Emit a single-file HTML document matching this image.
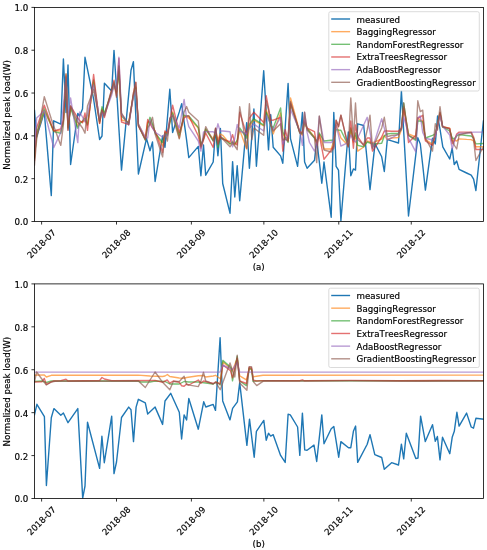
<!DOCTYPE html>
<html><head><meta charset="utf-8"><title>Normalized peak load</title>
<style>html,body{margin:0;padding:0;background:#fff}text{stroke:#000;stroke-width:0.18px}</style></head>
<body>
<svg width="487" height="550" viewBox="0 0 487 550" style="display:block;font-family:'DejaVu Sans','Liberation Sans',sans-serif;font-size:8.66px;font-kerning:none" fill="#000">
<rect width="487" height="550" fill="#fff"/>
<clipPath id="c1"><rect x="34.5" y="7.4" width="449.0" height="214.1"/></clipPath>
<g clip-path="url(#c1)" fill="none" stroke-width="1.4" stroke-linejoin="round" stroke-linecap="square">
<path d="M34.5 110.5 L36.6 137.0 L44.3 112.4 L46.4 137.4 L51.3 195.6 L53.7 120.8 L60.8 124.1 L63.4 59.0 L66.0 112.5 L68.0 65.0 L70.6 164.5 L77.8 113.4 L79.6 116.0 L82.5 109.0 L85.0 57.3 L87.5 69.4 L93.6 99.0 L99.6 139.5 L102.0 136.0 L104.4 83.2 L111.7 91.0 L114.0 50.4 L116.5 88.0 L118.9 128.5 L121.5 170.1 L128.7 94.4 L131.0 70.2 L133.4 61.6 L135.8 115.6 L138.4 174.0 L146.5 138.6 L150.0 150.7 L152.5 142.0 L155.1 181.5 L162.6 136.0 L165.0 147.3 L169.8 89.2 L172.6 132.5 L179.3 111.9 L181.7 103.6 L184.1 121.9 L186.6 140.1 L188.8 157.6 L198.3 146.4 L200.9 175.8 L203.5 145.0 L205.7 175.2 L213.2 162.0 L215.6 128.8 L217.9 155.7 L220.4 128.5 L222.7 183.5 L230.0 213.2 L232.6 161.6 L234.8 197.0 L237.2 165.8 L239.7 200.8 L246.7 122.6 L249.4 168.3 L253.9 109.0 L256.4 166.3 L263.7 70.7 L266.2 112.0 L268.5 149.9 L270.7 114.6 L273.2 147.3 L280.6 155.9 L282.8 163.2 L285.2 127.1 L288.1 83.5 L290.5 138.6 L297.6 166.3 L299.8 141.6 L302.4 112.5 L304.6 162.0 L307.1 168.3 L314.5 160.2 L316.7 140.0 L319.3 161.6 L321.8 183.2 L324.0 162.0 L331.2 217.2 L333.8 112.5 L336.1 166.3 L338.5 170.1 L340.9 220.7 L348.3 132.0 L350.8 175.8 L353.4 168.9 L355.5 170.1 L357.7 123.8 L363.7 125.5 L367.2 161.1 L370.0 189.6 L372.5 166.7 L375.0 143.8 L381.7 156.8 L384.3 171.5 L387.3 139.5 L391.6 140.9 L398.5 143.0 L401.4 91.0 L403.7 131.5 L406.3 177.3 L408.5 216.0 L415.8 154.6 L417.8 137.8 L420.3 144.0 L422.7 165.0 L425.4 190.1 L432.5 138.2 L435.3 143.9 L437.6 115.9 L440.0 129.2 L442.8 146.8 L449.7 159.0 L452.2 148.2 L454.2 164.5 L456.7 161.0 L459.1 169.4 L466.6 173.0 L471.2 175.2 L473.6 179.2 L475.9 190.5 L483.4 120.9" stroke="#1f77b4" stroke-opacity="1"/>
<path d="M34.5 157.0 L36.6 135.0 L44.3 111.0 L53.7 130.5 L60.8 131.0 L63.4 122.0 L66.0 74.0 L68.0 127.0 L70.6 107.0 L77.8 126.0 L79.6 122.0 L82.5 122.0 L85.0 120.0 L87.5 124.0 L93.6 82.0 L99.6 123.5 L102.0 109.0 L104.4 114.0 L111.7 93.0 L114.0 85.0 L116.5 93.0 L118.9 70.0 L121.5 120.0 L128.7 121.9 L133.4 96.0 L135.8 87.0 L138.4 124.0 L145.3 138.0 L147.7 122.0 L150.0 122.0 L152.5 125.0 L155.1 132.0 L162.6 146.0 L165.0 132.0 L167.4 134.0 L169.8 122.0 L172.6 112.0 L179.3 138.0 L184.1 116.0 L186.6 117.0 L188.8 118.0 L198.3 128.0 L200.9 146.0 L203.5 138.0 L205.7 129.5 L213.2 139.0 L215.6 133.0 L217.9 140.0 L220.1 134.0 L222.7 135.3 L230.0 143.9 L232.6 141.0 L234.8 145.0 L237.2 141.0 L239.7 130.0 L246.7 149.0 L249.4 126.0 L253.9 120.0 L263.7 126.0 L266.2 110.0 L268.5 116.0 L270.7 124.0 L273.2 133.9 L280.6 113.0 L282.8 134.0 L285.2 138.0 L288.1 138.0 L290.5 97.9 L299.8 132.0 L302.4 135.3 L304.6 124.0 L307.1 128.1 L314.5 137.0 L316.7 143.0 L319.3 134.0 L324.0 149.0 L331.2 149.0 L333.8 141.0 L336.1 125.0 L338.5 131.0 L340.9 138.0 L348.3 145.4 L350.8 130.0 L353.4 142.0 L355.5 136.0 L357.7 151.1 L363.7 147.0 L367.2 141.0 L370.0 142.0 L372.5 143.0 L381.7 139.0 L384.3 135.3 L387.3 139.6 L391.6 138.0 L398.5 137.5 L401.4 130.0 L403.7 106.6 L406.3 121.0 L408.5 133.9 L415.8 137.0 L417.8 118.0 L420.3 120.0 L422.7 121.0 L425.4 139.6 L432.5 144.0 L435.3 135.3 L437.5 125.0 L440.0 114.0 L442.6 126.7 L449.7 128.1 L452.2 141.0 L454.2 140.0 L456.7 141.0 L459.1 138.9 L466.6 139.4 L471.2 139.6 L473.6 141.0 L475.9 146.8 L483.4 146.8" stroke="#ff7f0e" stroke-opacity="0.66"/>
<path d="M34.5 158.0 L36.6 133.0 L44.3 108.8 L53.7 131.5 L60.8 133.2 L63.4 121.0 L66.0 78.0 L68.0 128.0 L70.6 108.0 L77.8 128.2 L79.6 124.0 L82.5 121.0 L85.0 118.0 L87.5 125.0 L93.6 80.0 L99.6 121.0 L102.0 106.8 L104.4 113.0 L111.7 92.0 L114.0 84.0 L116.5 92.0 L118.9 71.6 L121.5 116.0 L128.7 123.5 L133.4 95.0 L135.8 88.0 L138.4 125.0 L145.3 140.0 L147.7 125.0 L150.0 117.3 L152.5 124.0 L155.1 133.0 L162.6 142.5 L165.0 133.0 L167.4 135.0 L169.8 123.0 L172.6 113.0 L179.3 135.0 L184.1 115.2 L186.6 116.0 L188.8 116.0 L198.3 127.4 L200.9 145.0 L203.5 139.0 L205.7 129.0 L213.2 141.0 L215.6 132.0 L217.9 147.5 L220.1 138.0 L222.7 138.0 L230.0 144.0 L232.6 142.0 L234.8 144.0 L237.2 140.0 L239.7 128.0 L246.7 138.0 L249.4 124.0 L253.9 118.8 L263.7 125.2 L266.2 112.3 L268.5 118.0 L270.7 125.0 L273.2 128.0 L280.6 108.0 L282.8 132.0 L285.2 137.0 L288.1 142.5 L290.5 104.0 L299.8 133.0 L302.4 133.0 L304.6 122.0 L307.1 128.5 L314.5 138.0 L316.7 142.5 L319.3 133.0 L324.0 141.0 L331.2 140.3 L333.8 140.0 L336.1 129.6 L338.5 130.0 L340.9 130.3 L348.3 145.4 L350.8 128.0 L353.4 140.0 L355.5 133.0 L357.7 145.4 L363.7 146.8 L367.2 142.0 L370.0 143.0 L372.5 144.0 L381.7 143.2 L384.3 136.0 L387.3 133.9 L391.6 133.5 L398.5 133.2 L401.4 129.0 L403.7 103.0 L406.3 122.0 L408.5 135.3 L415.8 140.3 L417.8 120.9 L420.3 121.0 L422.7 122.0 L425.4 138.0 L432.5 135.3 L435.3 134.0 L437.5 124.0 L440.0 113.0 L442.6 127.0 L449.7 131.0 L452.2 138.0 L454.2 139.0 L456.7 136.0 L459.1 134.6 L466.6 135.5 L471.2 136.0 L473.6 138.0 L475.9 143.9 L483.4 143.5" stroke="#2ca02c" stroke-opacity="0.66"/>
<path d="M34.5 160.0 L36.6 128.0 L44.3 105.2 L53.7 131.0 L60.8 128.9 L63.4 120.0 L66.0 76.0 L68.0 130.3 L70.6 105.9 L77.8 118.0 L79.6 120.5 L82.5 122.8 L85.0 113.0 L87.5 130.3 L93.6 74.5 L99.6 123.3 L102.0 110.4 L104.4 117.6 L111.7 90.0 L114.0 80.2 L116.5 96.0 L118.9 58.5 L121.5 122.0 L128.7 124.7 L133.4 93.0 L135.8 82.3 L138.4 126.0 L145.3 139.0 L147.7 119.5 L150.0 124.0 L152.5 128.0 L155.1 131.0 L162.6 152.6 L165.0 131.0 L167.4 133.0 L169.8 121.0 L172.6 105.1 L179.3 132.5 L184.1 118.0 L186.6 116.0 L188.8 116.0 L198.3 136.0 L200.9 148.2 L203.5 140.0 L205.7 133.0 L213.2 147.5 L215.6 128.1 L217.9 144.0 L220.1 136.0 L222.7 139.0 L230.0 142.0 L232.6 134.6 L234.8 143.0 L237.2 145.0 L239.7 112.3 L246.7 135.0 L249.4 118.0 L253.9 112.3 L263.7 122.4 L266.2 95.8 L268.5 108.0 L270.7 120.0 L273.2 120.2 L280.6 117.3 L282.8 151.1 L285.2 129.6 L288.1 141.0 L290.5 103.0 L299.8 132.4 L302.4 132.0 L304.6 120.0 L307.1 128.1 L314.5 131.7 L316.7 145.4 L319.3 135.0 L324.0 159.4 L331.2 150.0 L333.8 146.0 L336.1 120.2 L338.5 126.7 L340.9 115.2 L348.3 146.8 L350.8 121.0 L353.4 148.2 L355.5 125.0 L357.7 136.7 L363.7 145.4 L367.2 138.0 L370.0 138.0 L372.5 151.1 L381.7 137.0 L384.3 131.0 L387.3 131.0 L391.6 131.3 L398.5 131.3 L401.4 128.0 L403.7 108.0 L406.3 124.0 L408.5 142.5 L415.8 135.3 L417.8 118.0 L420.3 117.0 L422.7 115.2 L425.4 141.0 L432.5 145.4 L435.3 135.3 L437.5 125.0 L440.0 112.3 L442.6 126.7 L449.7 128.5 L452.2 143.9 L454.2 141.0 L456.7 134.0 L459.1 132.1 L466.6 132.1 L471.2 132.1 L473.6 137.0 L475.9 149.5 L483.4 149.5" stroke="#d62728" stroke-opacity="0.66"/>
<path d="M34.5 150.0 L36.6 118.0 L44.3 111.0 L53.7 147.6 L60.8 132.5 L66.0 78.0 L68.0 120.0 L70.6 98.0 L77.8 142.6 L79.6 112.0 L82.5 117.0 L85.0 122.0 L87.5 115.0 L93.6 85.0 L99.6 119.0 L102.0 111.8 L104.4 115.0 L111.7 95.0 L114.0 85.0 L116.5 90.0 L118.9 57.2 L121.5 114.0 L128.7 125.0 L133.4 97.0 L135.8 90.0 L138.4 124.0 L145.3 137.0 L147.7 138.0 L150.0 120.0 L152.5 128.0 L155.1 132.4 L162.6 137.0 L165.0 134.0 L167.4 136.0 L169.8 119.0 L172.6 115.0 L179.3 128.0 L184.1 99.4 L186.6 118.0 L188.8 126.7 L198.3 141.0 L200.9 151.1 L203.5 132.0 L205.7 131.7 L213.2 131.7 L215.6 134.0 L217.9 123.8 L220.1 131.0 L222.7 131.0 L230.0 131.7 L232.6 146.8 L234.8 138.0 L237.2 124.5 L239.7 131.0 L246.7 134.0 L249.4 128.0 L253.9 124.0 L263.7 131.0 L266.2 115.0 L268.5 120.0 L270.7 124.0 L273.2 130.0 L280.6 117.3 L282.8 144.0 L285.2 140.0 L288.1 136.0 L290.5 109.4 L299.8 131.0 L302.4 145.4 L304.6 112.3 L307.1 132.4 L309.5 142.5 L314.5 151.1 L316.7 146.0 L319.3 116.5 L324.0 142.5 L331.2 142.5 L333.8 140.0 L336.1 125.0 L338.5 135.0 L340.9 146.1 L348.3 142.5 L350.8 135.0 L353.4 140.0 L355.5 142.0 L357.7 138.0 L363.7 125.0 L367.2 117.3 L370.0 132.0 L372.5 148.2 L381.7 118.8 L384.3 128.0 L387.3 139.6 L391.6 138.0 L398.5 134.0 L401.4 129.0 L403.7 117.3 L406.3 126.0 L408.5 138.2 L415.8 151.8 L417.8 118.0 L420.3 115.9 L422.7 132.4 L425.4 138.2 L432.5 140.0 L435.3 136.0 L437.5 126.0 L440.0 116.0 L442.6 126.0 L449.7 135.0 L452.2 149.0 L454.2 142.0 L456.7 135.0 L459.1 133.5 L466.6 133.0 L471.2 132.5 L473.6 132.1 L475.9 132.1 L483.4 132.1" stroke="#9467bd" stroke-opacity="0.66"/>
<path d="M34.5 165.0 L36.6 140.0 L44.3 96.6 L51.3 119.0 L53.7 126.0 L60.8 145.4 L63.4 125.0 L66.0 74.0 L68.0 130.0 L70.6 105.9 L77.8 122.4 L79.6 124.0 L82.5 128.0 L85.0 133.2 L87.5 106.0 L93.6 89.4 L99.6 122.0 L102.0 110.0 L104.4 116.0 L111.7 89.0 L114.0 82.0 L116.5 97.4 L118.9 66.0 L121.5 113.2 L128.7 124.5 L133.4 94.0 L135.8 82.5 L138.4 126.0 L145.3 140.0 L147.7 128.0 L150.0 124.0 L152.5 117.3 L155.1 134.0 L162.6 156.9 L165.0 133.0 L167.4 141.0 L169.8 118.0 L172.6 116.0 L179.3 138.9 L184.1 112.0 L186.6 106.6 L188.8 112.3 L198.3 120.9 L200.9 146.8 L203.5 137.7 L205.7 126.7 L213.2 141.0 L215.6 128.1 L217.9 144.0 L220.1 138.0 L222.7 139.0 L230.0 146.8 L232.6 143.0 L234.8 146.0 L237.2 149.7 L239.7 106.6 L246.7 148.2 L249.4 103.7 L251.8 139.6 L253.9 128.1 L263.7 135.3 L266.2 100.8 L268.5 110.0 L270.7 125.0 L273.2 131.0 L280.6 123.8 L282.8 140.0 L285.2 139.0 L288.1 141.0 L290.5 101.5 L299.8 133.0 L302.4 134.0 L304.6 112.3 L307.1 130.0 L314.5 138.0 L316.7 162.6 L319.3 115.9 L324.0 150.0 L331.2 152.0 L333.8 148.2 L336.1 120.2 L338.5 126.7 L340.9 115.2 L348.3 146.8 L350.8 97.9 L353.4 139.6 L355.5 103.0 L357.7 139.6 L363.7 145.0 L367.2 130.0 L370.0 115.2 L372.5 148.2 L381.7 128.0 L384.3 117.3 L387.3 136.7 L391.6 135.5 L398.5 134.6 L401.4 128.0 L403.7 103.0 L406.3 121.0 L408.5 135.3 L415.8 139.0 L417.8 100.8 L420.3 111.6 L422.7 110.2 L425.4 138.2 L432.5 151.1 L435.3 123.8 L437.5 130.0 L440.0 106.6 L442.6 126.7 L449.7 129.0 L452.2 140.0 L454.2 145.0 L456.7 149.0 L459.1 135.0 L466.6 133.0 L471.2 132.5 L473.6 140.0 L475.9 160.5 L483.4 147.0" stroke="#8c564b" stroke-opacity="0.66"/>
</g>
<rect x="34.5" y="7.4" width="449.0" height="214.1" fill="none" stroke="#000" stroke-width="0.8"/>
<g stroke="#000" stroke-width="0.8"><line x1="31.44" y1="221.50" x2="34.5" y2="221.50"/><line x1="31.44" y1="178.68" x2="34.5" y2="178.68"/><line x1="31.44" y1="135.86" x2="34.5" y2="135.86"/><line x1="31.44" y1="93.04" x2="34.5" y2="93.04"/><line x1="31.44" y1="50.22" x2="34.5" y2="50.22"/><line x1="31.44" y1="7.40" x2="34.5" y2="7.40"/><line x1="41.60" y1="221.5" x2="41.60" y2="224.56"/><line x1="116.50" y1="221.5" x2="116.50" y2="224.56"/><line x1="191.39" y1="221.5" x2="191.39" y2="224.56"/><line x1="263.87" y1="221.5" x2="263.87" y2="224.56"/><line x1="338.77" y1="221.5" x2="338.77" y2="224.56"/><line x1="411.25" y1="221.5" x2="411.25" y2="224.56"/></g>
<text x="28.34" y="225.46" text-anchor="end">0.0</text>
<text x="28.34" y="182.64" text-anchor="end">0.2</text>
<text x="28.34" y="139.82" text-anchor="end">0.4</text>
<text x="28.34" y="97.00" text-anchor="end">0.6</text>
<text x="28.34" y="54.18" text-anchor="end">0.8</text>
<text x="28.34" y="11.36" text-anchor="end">1.0</text>
<text transform="translate(41.30,243.70) rotate(-45)" x="0" y="3.16" text-anchor="middle">2018-07</text>
<text transform="translate(116.20,243.70) rotate(-45)" x="0" y="3.16" text-anchor="middle">2018-08</text>
<text transform="translate(191.09,243.70) rotate(-45)" x="0" y="3.16" text-anchor="middle">2018-09</text>
<text transform="translate(263.57,243.70) rotate(-45)" x="0" y="3.16" text-anchor="middle">2018-10</text>
<text transform="translate(338.47,243.70) rotate(-45)" x="0" y="3.16" text-anchor="middle">2018-11</text>
<text transform="translate(410.95,243.70) rotate(-45)" x="0" y="3.16" text-anchor="middle">2018-12</text>
<text transform="translate(10.0,114.95) rotate(-90)" x="0" y="0" text-anchor="middle">Normalized peak load(W)</text>
<text x="258.7" y="270.00" text-anchor="middle">(a)</text>
<rect x="328.8" y="11.7" width="150.5" height="79.3" rx="1.7" fill="#fff" fill-opacity="0.8" stroke="#ccc" stroke-width="0.7"/>
<line x1="331.9" y1="19.00" x2="349.4" y2="19.00" stroke="#1f77b4" stroke-opacity="1" stroke-width="1.4" stroke-linecap="square"/>
<text x="356.6" y="22.50">measured</text>
<line x1="331.9" y1="31.66" x2="349.4" y2="31.66" stroke="#ff7f0e" stroke-opacity="0.66" stroke-width="1.4" stroke-linecap="square"/>
<text x="356.6" y="35.16">BaggingRegressor</text>
<line x1="331.9" y1="44.32" x2="349.4" y2="44.32" stroke="#2ca02c" stroke-opacity="0.66" stroke-width="1.4" stroke-linecap="square"/>
<text x="356.6" y="47.82">RandomForestRegressor</text>
<line x1="331.9" y1="56.98" x2="349.4" y2="56.98" stroke="#d62728" stroke-opacity="0.66" stroke-width="1.4" stroke-linecap="square"/>
<text x="356.6" y="60.48">ExtraTreesRegressor</text>
<line x1="331.9" y1="69.64" x2="349.4" y2="69.64" stroke="#9467bd" stroke-opacity="0.66" stroke-width="1.4" stroke-linecap="square"/>
<text x="356.6" y="73.14">AdaBoostRegressor</text>
<line x1="331.9" y1="82.30" x2="349.4" y2="82.30" stroke="#8c564b" stroke-opacity="0.66" stroke-width="1.4" stroke-linecap="square"/>
<text x="356.6" y="85.80">GradientBoostingRegressor</text>
<clipPath id="c2"><rect x="34.5" y="283.9" width="449.0" height="214.60000000000002"/></clipPath>
<g clip-path="url(#c2)" fill="none" stroke-width="1.4" stroke-linejoin="round" stroke-linecap="square">
<path d="M34.5 414.6 L36.9 404.3 L44.4 416.6 L46.4 485.5 L51.3 417.8 L53.9 408.6 L60.8 415.3 L63.4 413.0 L68.0 422.7 L77.8 408.6 L82.7 498.1 L85.0 486.0 L87.5 422.2 L99.6 468.4 L101.9 436.3 L104.3 462.7 L111.7 416.2 L114.0 473.6 L116.5 462.0 L121.5 417.5 L128.7 407.1 L131.0 409.7 L133.5 441.6 L136.1 407.1 L138.4 399.3 L145.3 402.8 L147.7 414.0 L155.1 407.1 L162.6 424.4 L165.0 401.0 L170.7 393.3 L179.3 412.3 L181.6 439.0 L184.1 414.9 L186.6 420.0 L188.8 398.5 L198.3 429.2 L203.7 401.8 L205.8 407.0 L213.2 404.4 L215.5 410.4 L220.1 337.8 L222.7 400.9 L230.0 419.9 L232.6 408.3 L237.4 401.8 L239.7 382.7 L246.9 445.4 L249.5 419.1 L254.2 457.2 L256.4 431.3 L263.8 420.4 L266.2 440.2 L268.5 433.3 L270.7 436.1 L273.2 434.7 L280.6 455.4 L285.2 462.4 L288.1 414.3 L290.3 414.9 L297.6 427.0 L299.8 455.4 L302.4 413.1 L304.7 449.9 L307.1 450.3 L314.0 445.1 L316.7 461.5 L321.8 414.9 L324.0 443.7 L331.2 428.7 L333.8 426.4 L338.7 457.2 L340.9 441.6 L348.5 447.7 L350.8 447.7 L353.4 431.3 L355.6 426.1 L357.7 462.4 L367.2 444.2 L370.0 434.7 L374.8 454.6 L381.7 457.5 L384.3 469.3 L391.6 462.7 L398.5 465.0 L401.4 444.2 L403.7 458.9 L406.3 433.3 L415.8 458.6 L418.0 458.0 L420.6 416.1 L425.3 441.6 L432.5 424.7 L435.3 441.3 L437.4 436.5 L440.0 459.8 L442.5 437.3 L449.8 453.7 L452.2 437.3 L454.3 431.3 L456.9 412.3 L459.1 426.1 L466.6 413.1 L471.2 427.0 L473.5 428.2 L475.9 418.3 L483.4 419.2" stroke="#1f77b4" stroke-opacity="1"/>
<path d="M34.5 375.2 L44.3 374.9 L46.4 377.0 L51.3 375.3 L53.7 375.2 L138.0 375.1 L150.0 376.0 L162.6 376.5 L165.0 376.0 L167.4 374.5 L169.8 376.5 L179.3 378.0 L184.0 378.2 L186.6 377.5 L198.3 375.8 L203.5 375.5 L205.7 377.0 L213.2 376.0 L215.6 375.3 L217.9 377.0 L220.7 378.9 L222.8 361.9 L230.0 368.0 L232.5 370.7 L237.2 358.3 L239.7 375.8 L246.4 379.9 L249.2 368.6 L251.5 369.0 L253.1 376.8 L256.4 376.3 L263.0 375.3 L483.4 375.1" stroke="#ff7f0e" stroke-opacity="0.66"/>
<path d="M34.5 381.5 L41.8 381.0 L46.4 382.5 L51.3 381.0 L128.7 381.0 L138.0 381.0 L140.8 382.0 L150.0 382.0 L155.0 381.0 L165.0 381.5 L169.8 384.0 L179.3 384.0 L184.1 381.5 L188.8 382.0 L198.3 382.0 L213.2 384.0 L217.0 382.0 L220.2 385.0 L222.8 360.4 L231.0 367.6 L232.5 380.9 L237.2 356.3 L239.7 381.0 L246.4 385.6 L249.2 368.1 L251.5 369.6 L253.1 381.4 L256.4 381.0 L263.7 380.8 L483.4 380.8" stroke="#2ca02c" stroke-opacity="0.66"/>
<path d="M34.5 382.0 L41.8 381.8 L44.3 378.4 L46.4 384.4 L51.3 381.8 L53.7 381.0 L60.8 380.6 L66.0 379.2 L68.0 381.0 L99.6 380.5 L102.0 377.5 L104.4 379.0 L111.7 380.6 L155.0 380.4 L162.6 382.3 L167.2 380.0 L169.8 383.2 L173.3 381.0 L179.3 382.3 L181.7 385.8 L184.1 386.3 L186.6 384.0 L188.8 385.0 L198.3 380.0 L200.9 383.2 L203.5 381.0 L213.2 383.5 L215.6 382.0 L217.9 383.0 L220.1 384.0 L222.8 365.0 L230.5 370.7 L232.5 377.9 L237.2 358.3 L239.7 381.0 L246.4 383.5 L249.2 367.1 L251.5 368.0 L253.1 380.0 L256.4 381.0 L263.7 380.6 L299.8 380.7 L302.4 379.8 L304.6 380.8 L350.0 380.4 L400.0 380.8 L440.0 380.5 L483.4 380.6" stroke="#d62728" stroke-opacity="0.66"/>
<path d="M34.5 372.1 L220.1 372.1 L222.7 365.0 L230.0 368.5 L232.6 369.6 L237.2 362.0 L239.7 372.1 L483.4 372.1" stroke="#9467bd" stroke-opacity="0.66"/>
<path d="M34.5 381.8 L36.6 372.0 L41.8 379.0 L46.4 385.0 L51.3 382.0 L55.0 381.2 L138.4 381.0 L145.3 387.5 L155.1 372.0 L162.6 382.3 L169.8 389.7 L173.3 381.5 L179.3 381.5 L184.1 376.3 L186.6 384.6 L198.3 386.6 L200.9 381.0 L203.5 372.3 L205.7 381.0 L213.2 384.0 L215.6 382.0 L220.2 389.7 L230.0 363.0 L232.6 371.0 L234.8 377.0 L237.2 355.3 L239.7 383.0 L246.9 390.2 L249.2 366.6 L251.5 366.6 L253.6 382.0 L256.7 385.6 L263.7 380.8 L300.0 381.1 L350.0 380.9 L420.0 381.2 L483.4 381.0" stroke="#8c564b" stroke-opacity="0.66"/>
</g>
<rect x="34.5" y="283.9" width="449.0" height="214.60000000000002" fill="none" stroke="#000" stroke-width="0.8"/>
<g stroke="#000" stroke-width="0.8"><line x1="31.44" y1="498.50" x2="34.5" y2="498.50"/><line x1="31.44" y1="455.58" x2="34.5" y2="455.58"/><line x1="31.44" y1="412.66" x2="34.5" y2="412.66"/><line x1="31.44" y1="369.74" x2="34.5" y2="369.74"/><line x1="31.44" y1="326.82" x2="34.5" y2="326.82"/><line x1="31.44" y1="283.90" x2="34.5" y2="283.90"/><line x1="41.60" y1="498.5" x2="41.60" y2="501.56"/><line x1="116.50" y1="498.5" x2="116.50" y2="501.56"/><line x1="191.39" y1="498.5" x2="191.39" y2="501.56"/><line x1="263.87" y1="498.5" x2="263.87" y2="501.56"/><line x1="338.77" y1="498.5" x2="338.77" y2="501.56"/><line x1="411.25" y1="498.5" x2="411.25" y2="501.56"/></g>
<text x="28.34" y="502.46" text-anchor="end">0.0</text>
<text x="28.34" y="459.54" text-anchor="end">0.2</text>
<text x="28.34" y="416.62" text-anchor="end">0.4</text>
<text x="28.34" y="373.70" text-anchor="end">0.6</text>
<text x="28.34" y="330.78" text-anchor="end">0.8</text>
<text x="28.34" y="287.86" text-anchor="end">1.0</text>
<text transform="translate(41.30,520.70) rotate(-45)" x="0" y="3.16" text-anchor="middle">2018-07</text>
<text transform="translate(116.20,520.70) rotate(-45)" x="0" y="3.16" text-anchor="middle">2018-08</text>
<text transform="translate(191.09,520.70) rotate(-45)" x="0" y="3.16" text-anchor="middle">2018-09</text>
<text transform="translate(263.57,520.70) rotate(-45)" x="0" y="3.16" text-anchor="middle">2018-10</text>
<text transform="translate(338.47,520.70) rotate(-45)" x="0" y="3.16" text-anchor="middle">2018-11</text>
<text transform="translate(410.95,520.70) rotate(-45)" x="0" y="3.16" text-anchor="middle">2018-12</text>
<text transform="translate(10.0,391.70) rotate(-90)" x="0" y="0" text-anchor="middle">Normalized peak load(W)</text>
<text x="258.7" y="547.00" text-anchor="middle">(b)</text>
<rect x="328.8" y="288.2" width="150.5" height="79.3" rx="1.7" fill="#fff" fill-opacity="0.8" stroke="#ccc" stroke-width="0.7"/>
<line x1="331.9" y1="295.50" x2="349.4" y2="295.50" stroke="#1f77b4" stroke-opacity="1" stroke-width="1.4" stroke-linecap="square"/>
<text x="356.6" y="299.00">measured</text>
<line x1="331.9" y1="308.16" x2="349.4" y2="308.16" stroke="#ff7f0e" stroke-opacity="0.66" stroke-width="1.4" stroke-linecap="square"/>
<text x="356.6" y="311.66">BaggingRegressor</text>
<line x1="331.9" y1="320.82" x2="349.4" y2="320.82" stroke="#2ca02c" stroke-opacity="0.66" stroke-width="1.4" stroke-linecap="square"/>
<text x="356.6" y="324.32">RandomForestRegressor</text>
<line x1="331.9" y1="333.48" x2="349.4" y2="333.48" stroke="#d62728" stroke-opacity="0.66" stroke-width="1.4" stroke-linecap="square"/>
<text x="356.6" y="336.98">ExtraTreesRegressor</text>
<line x1="331.9" y1="346.14" x2="349.4" y2="346.14" stroke="#9467bd" stroke-opacity="0.66" stroke-width="1.4" stroke-linecap="square"/>
<text x="356.6" y="349.64">AdaBoostRegressor</text>
<line x1="331.9" y1="358.80" x2="349.4" y2="358.80" stroke="#8c564b" stroke-opacity="0.66" stroke-width="1.4" stroke-linecap="square"/>
<text x="356.6" y="362.30">GradientBoostingRegressor</text>
</svg>
</body></html>
